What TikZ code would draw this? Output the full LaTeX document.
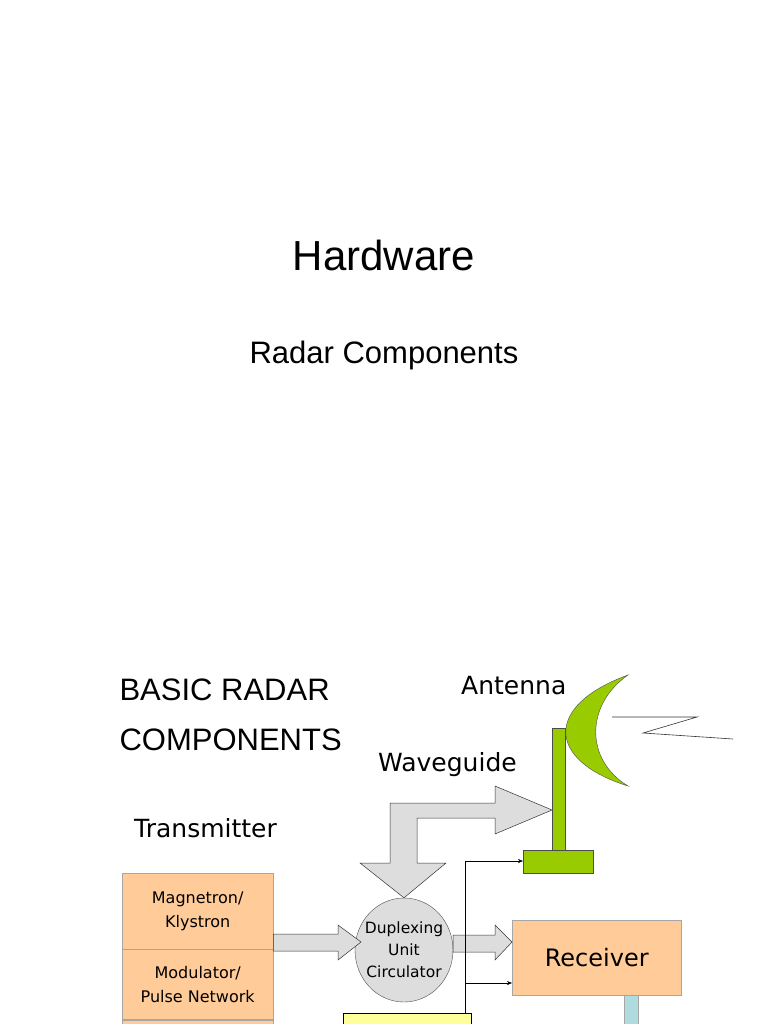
\documentclass[tikz,border=0pt]{standalone}
\usepackage{fontspec}
\setmainfont{Liberation Sans}
\newfontfamily\verd{DejaVu Sans}
\usetikzlibrary{positioning, arrows.meta, calc, shapes.geometric}
\definecolor{tx}{HTML}{FFCC99}
\definecolor{grn}{HTML}{99CC00}
\definecolor{lgray}{HTML}{DDDDDD}
\definecolor{ylw}{HTML}{FFFF99}
\definecolor{lblue}{HTML}{B0DCE0}
\begin{document}
\begin{tikzpicture}[x=1pt, y=-1pt]
		\tikzset{
			>={Stealth[length=5pt,width=4pt]},
			box/.style={draw=gray!70, fill=tx, align=center, inner sep=0pt, font=\verd\fontsize{16}{24}\selectfont},
			block/.style={draw=black!80, fill=lgray, line width=0.5pt},
			label/.style={anchor=west, inner sep=0pt, font=\verd\fontsize{25}{30}\selectfont}
		}
		\useasboundingbox (0,0) rectangle (768,1024);
		
		% Titles
		\node[font=\fontsize{42}{46}\selectfont] (title) at (384,255) {Hardware};
		\node[font=\fontsize{31}{34}\selectfont] (sub) at (384,355) {Radar Components};
		\node[anchor=west, align=left, font=\fontsize{31}{50}\selectfont] (basic) at (116,715) {BASIC RADAR\\COMPONENTS};
		
		% Labels
		\node[label] (antlbl) at (461,686) {Antenna};
		\node[label] (wglbl) at (378,765) {Waveguide};
		\node[label] (txlbl) at (134,828) {Transmitter};
		
		% Transmitter stack
		\node[box, minimum width=151pt, minimum height=76pt, anchor=north west] (mag) at (122,873) {Magnetron/\\Klystron};
		\node[box, minimum width=151pt, minimum height=70pt, below=0pt of mag] (mod) {Modulator/\\Pulse Network};
		\node[box, minimum width=151pt, minimum height=20pt, below=0pt of mod] (pwr) {};
		
		% Duplexer
		\node[draw=black!70, fill=lgray, ellipse, minimum width=98pt, minimum height=104pt, inner sep=0pt] (dup) at (404,950) {};
		
		% Receiver and below
		\node[box, minimum width=169pt, minimum height=75pt, anchor=north west, font=\verd\fontsize{24}{28}\selectfont] (rx) at (512,920) {Receiver};
		\node[draw=gray!70, fill=lblue, minimum width=14pt, minimum height=34pt, anchor=north, inner sep=0pt] (rxstem) at (631,995) {};
		\node[draw=black, fill=ylw, minimum width=128pt, minimum height=20pt, anchor=north west, inner sep=0pt] (sync) at (343,1013) {};
		
		% Antenna
		\node[draw=black!70, fill=grn, minimum width=70pt, minimum height=23pt, anchor=north west, inner sep=0pt] (base) at (523,850) {};
		\node[draw=black!70, fill=grn, minimum width=13pt, minimum height=122pt, anchor=south west, inner sep=0pt] (mast) at (552,850) {};
		\draw[fill=grn, draw=black!70] (628,675) .. controls (545,705) and (545,760) .. (628,786)
			.. controls (585,760) and (585,705) .. (628,675) -- cycle;
		\draw[black!80, line width=0.6pt] (612,717) -- (697,717) -- (643,733) -- (733,739);
		
		% Block arrows
		\draw[block] (mag.east |- 0,934) -- (338,934) -- (338,925) -- (361,942) -- (338,960) -- (338,951) -- (mag.east |- 0,951) -- cycle;
		\draw[block] (dup.east |- 0,935) -- (495,935) -- (495,925) -- (rx.west |- 0,942) -- (495,960) -- (495,952) -- (453,952) -- cycle;
		\draw[block] (390,863) -- (390,803) -- (495,803) -- (495,786) -- (mast.west |- 0,810) -- (495,834) -- (495,818)
			-- (417,818) -- (417,863) -- (446,863) -- (dup.north) -- (360,863) -- cycle;
		\node[align=center, font=\verd\fontsize{15.5}{22}\selectfont] (duptxt) at (dup) {Duplexing\\Unit\\Circulator};
		
		% Trigger lines
		\coordinate (trig) at (465,861);
		\coordinate (trig2) at (465,983);
		\draw[->] (sync.north -| trig) -- (trig) -- (base.west |- trig);
		\draw[->] (trig2) -- (rx.west |- trig2);
		
	\end{tikzpicture}
\end{document}
